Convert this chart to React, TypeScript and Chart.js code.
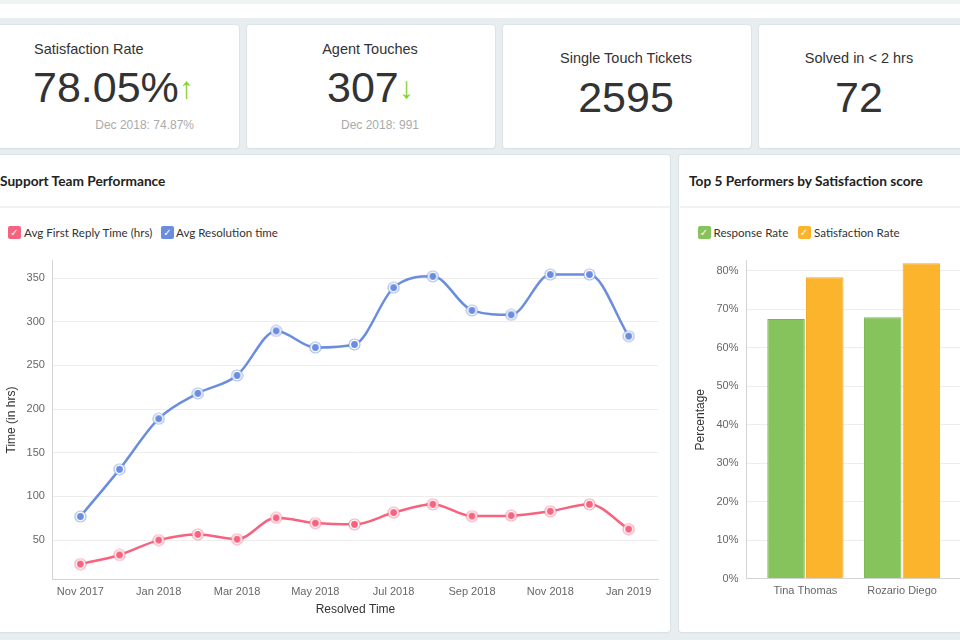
import React, { useEffect, useRef } from 'react';
import { Chart, registerables } from 'chart.js';

Chart.register(...registerables);

// ---------- data ----------
const months = [
  'Nov 2017', 'Dec 2017', 'Jan 2018', 'Feb 2018', 'Mar 2018', 'Apr 2018', 'May 2018', 'Jun 2018',
  'Jul 2018', 'Aug 2018', 'Sep 2018', 'Oct 2018', 'Nov 2018', 'Dec 2018', 'Jan 2019',
];
const firstReplyHrs = [22.5, 33, 50, 56.5, 51, 75.5, 69.5, 68, 81.5, 91, 77.5, 78, 83, 91, 62.5];
const resolutionHrs = [77, 131, 189, 218, 238.5, 289.5, 270.5, 274, 339, 352, 313, 308, 354, 354, 283.5];
const timeTicks = [50, 100, 150, 200, 250, 300, 350];
const monthTickIdx = [0, 2, 4, 6, 8, 10, 12, 14];

const performers = ['Tina Thomas', 'Rozario Diego', 'Performer 3', 'Performer 4', 'Performer 5'];
const responseRate = [67.5, 68, 71.7, 70, 69];
const satisfactionRate = [78.4, 82, 80, 79, 78];
const pctTicks = [0, 10, 20, 30, 40, 50, 60, 70, 80];

// ---------- styles ----------
const PINK = '#f7627f';
const BLUE = '#6b8ddf';
const GREEN = '#86c35c';
const ORANGE = '#fdb42d';
const SANS = '"Liberation Sans", Arial, Helvetica, sans-serif';
const UI = 'Lato, "Open Sans", sans-serif';

Chart.defaults.font.family = SANS;

function pointImg(color: string) {
  const c = document.createElement('canvas');
  c.width = 13;
  c.height = 13;
  const g = c.getContext('2d')!;
  g.beginPath();
  g.arc(6.5, 6.5, 5.5, 0, Math.PI * 2);
  g.fillStyle = '#fff';
  g.fill();
  g.lineWidth = 1.2;
  g.strokeStyle = color;
  g.globalAlpha = 0.6;
  g.stroke();
  g.globalAlpha = 1;
  g.beginPath();
  g.arc(6.5, 6.5, 3.4, 0, Math.PI * 2);
  g.fillStyle = color;
  g.fill();
  return c;
}

function LineChart() {
  const ref = useRef<HTMLCanvasElement>(null);
  useEffect(() => {
    const chart = new Chart(ref.current!, {
      type: 'line',
      data: {
        datasets: [
          {
            label: 'Avg First Reply Time (hrs)',
            data: firstReplyHrs.map((y, i) => ({ x: i, y })),
            borderColor: PINK,
            borderWidth: 2.5,
            pointStyle: pointImg(PINK) as any,
            pointRadius: 5,
            cubicInterpolationMode: 'monotone',
            fill: false,
          },
          {
            label: 'Avg Resolution time',
            data: resolutionHrs.map((y, i) => ({ x: i, y })),
            borderColor: BLUE,
            borderWidth: 2.5,
            pointStyle: pointImg(BLUE) as any,
            pointRadius: 5,
            cubicInterpolationMode: 'monotone',
            fill: false,
          },
        ],
      },
      options: {
        animation: false,
        responsive: true,
        maintainAspectRatio: false,
        layout: { padding: { top: 6, right: 10, left: 0, bottom: 0 } },
        plugins: { legend: { display: false }, tooltip: { enabled: false } },
        scales: {
          x: {
            type: 'linear',
            min: -0.7,
            max: 14.75,
            offset: false,
            afterBuildTicks: (s: any) => {
              s.ticks = monthTickIdx.map((v) => ({ value: v }));
            },
            ticks: {
              callback: (v: any) => months[v as number] ?? '',
              color: '#666',
              font: { size: 11 },
              padding: 6,
              maxRotation: 0,
              autoSkip: false,
            },
            grid: { display: false, drawTicks: false },
            border: { display: true, color: '#d4d4d4' },
            title: {
              display: true,
              text: 'Resolved Time',
              color: '#333',
              font: { size: 12 },
              padding: { top: -2, bottom: 4 },
            },
          },
          y: {
            min: 5,
            max: 370,
            afterBuildTicks: (s: any) => {
              s.ticks = timeTicks.map((v) => ({ value: v }));
            },
            ticks: { color: '#666', font: { size: 11 }, padding: 8 },
            grid: { color: '#ededed', drawTicks: false },
            border: { display: true, color: '#d4d4d4' },
            title: {
              display: true,
              text: 'Time (in hrs)',
              color: '#333',
              font: { size: 12 },
              padding: { top: 4, bottom: 0.2 },
            },
          },
        },
      },
    });
    return () => chart.destroy();
  }, []);
  return (
    <div style={{ position: 'absolute', left: 0, top: 246, width: 668, height: 375 }}>
      <canvas ref={ref} />
    </div>
  );
}

function BarChart() {
  const ref = useRef<HTMLCanvasElement>(null);
  useEffect(() => {
    const chart = new Chart(ref.current!, {
      type: 'bar',
      data: {
        datasets: [
          {
            label: 'Response Rate',
            data: responseRate.map((y, i) => ({ x: i, y })),
            backgroundColor: GREEN,
            borderColor: '#77b84d',
            borderWidth: 1,
            barPercentage: 0.97,
            categoryPercentage: 0.8,
          },
          {
            label: 'Satisfaction Rate',
            data: satisfactionRate.map((y, i) => ({ x: i, y })),
            backgroundColor: ORANGE,
            borderColor: '#f6a91c',
            borderWidth: 1,
            barPercentage: 0.97,
            categoryPercentage: 0.8,
          },
        ],
      },
      options: {
        animation: false,
        responsive: true,
        maintainAspectRatio: false,
        layout: { padding: { top: 6, right: 7, left: 0, bottom: 2 } },
        plugins: { legend: { display: false }, tooltip: { enabled: false } },
        scales: {
          x: {
            type: 'linear',
            min: -0.61,
            max: 4.61,
            offset: false,
            afterBuildTicks: (s: any) => {
              s.ticks = performers.map((_, i) => ({ value: i }));
            },
            ticks: {
              callback: (v: any) => performers[v as number] ?? '',
              color: '#666',
              font: { size: 11 },
              padding: 6,
              maxRotation: 0,
              autoSkip: false,
            },
            grid: { display: false, drawTicks: false },
            border: { display: true, color: '#d4d4d4' },
          },
          y: {
            min: 0,
            max: 82.7,
            afterBuildTicks: (s: any) => {
              s.ticks = pctTicks.map((v) => ({ value: v }));
            },
            ticks: { color: '#666', font: { size: 11 }, padding: 8, callback: (v: any) => v + '%' },
            grid: { color: '#ededed', drawTicks: false },
            border: { display: true, color: '#d4d4d4' },
            title: {
              display: true,
              text: 'Percentage',
              color: '#333',
              font: { size: 12 },
              padding: { top: 15, bottom: 1 },
            },
          },
        },
      },
    });
    return () => chart.destroy();
  }, []);
  return (
    <div style={{ position: 'absolute', left: 678, top: 246, width: 580, height: 360 }}>
      <canvas ref={ref} />
    </div>
  );
}

type TP = { x: number; y: number; size: number; color?: string; family?: string; weight?: number; align?: 'left' | 'center' | 'right'; children: React.ReactNode };
function T({ x, y, size, color = '#333', family = SANS, weight = 400, align = 'left', children }: TP) {
  const lh = size * 1.2;
  const style: React.CSSProperties = {
    position: 'absolute',
    top: y - lh / 2,
    fontSize: size,
    lineHeight: lh + 'px',
    color,
    fontFamily: family,
    fontWeight: weight,
    whiteSpace: 'nowrap',
  };
  if (align === 'left') style.left = x;
  else if (align === 'right') style.right = 960 - x;
  else {
    style.left = x - 300;
    style.width = 600;
    style.textAlign = 'center';
  }
  return <div style={style}>{children}</div>;
}

function Box({ x, y, w, h }: { x: number; y: number; w: number; h: number }) {
  return (
    <div
      style={{
        position: 'absolute',
        left: x,
        top: y,
        width: w,
        height: h,
        background: '#fff',
        borderRadius: 3,
        boxShadow: '0 0 0 1px rgba(214,223,227,0.7), 0 1px 2px rgba(0,0,0,0.05)',
      }}
    />
  );
}

function Check({ x, y, color }: { x: number; y: number; color: string }) {
  return (
    <div
      style={{
        position: 'absolute',
        left: x,
        top: y,
        width: 13,
        height: 13,
        background: color,
        borderRadius: 2,
        color: '#fff',
        fontSize: 10,
        lineHeight: '13px',
        textAlign: 'center',
        fontFamily: '"DejaVu Sans", sans-serif',
      }}
    >
      ✓
    </div>
  );
}

export default function App() {
  return (
    <div
      style={{
        position: 'fixed',
        left: 0,
        top: 0,
        width: 960,
        height: 640,
        overflow: 'hidden',
        background: '#e8eef0',
      }}
    >
      <div style={{ position: 'absolute', left: 0, top: 0, width: 960, height: 4, background: '#eef4f4' }} />
      <div style={{ position: 'absolute', left: 0, top: 4, width: 960, height: 14, background: '#fff' }} />

      {/* KPI cards */}
      <Box x={-9} y={25} w={247.5} h={123} />
      <Box x={246.5} y={25} w={248.5} h={123} />
      <Box x={503} y={25} w={248} h={123} />
      <Box x={759} y={25} w={248} h={123} />

      <T x={34} y={49.5} size={14.5}>Satisfaction Rate</T>
      <T x={33} y={88} size={43}>78.05%</T>
      <T x={179} y={88} size={30} color="#7ed321">↑</T>
      <T x={194} y={125} size={12} color="#aaa" align="right">Dec 2018: 74.87%</T>

      <T x={370} y={49.5} size={14.5} align="center">Agent Touches</T>
      <T x={327} y={88} size={43}>307</T>
      <T x={399} y={88} size={30} color="#7ed321">↓</T>
      <T x={380} y={125} size={12} color="#aaa" align="center">Dec 2018: 991</T>

      <T x={626} y={59} size={14.5} align="center">Single Touch Tickets</T>
      <T x={626} y={97.5} size={43} align="center">2595</T>

      <T x={859} y={59} size={14.5} align="center">Solved in &lt; 2 hrs</T>
      <T x={859} y={97.5} size={43} align="center">72</T>

      {/* Panels */}
      <Box x={-10} y={155} w={680} h={477} />
      <Box x={679} y={155} w={320} h={477} />
      <div style={{ position: 'absolute', left: 0, top: 206, width: 670, height: 1.5, background: '#eef2f3' }} />
      <div style={{ position: 'absolute', left: 680, top: 206, width: 280, height: 1.5, background: '#eef2f3' }} />

      <T x={0} y={181} size={13.7} weight={700} family={UI} color="#222">Support Team Performance</T>
      <T x={689} y={181.5} size={13.7} weight={700} family={UI} color="#222">Top 5 Performers by Satisfaction score</T>

      <Check x={8} y={226} color={PINK} />
      <T x={24} y={232.5} size={11.6} family={UI} color="#333">Avg First Reply Time (hrs)</T>
      <Check x={161} y={226} color={BLUE} />
      <T x={176} y={232.5} size={11.6} family={UI} color="#333">Avg Resolution time</T>

      <Check x={697.5} y={226} color={GREEN} />
      <T x={713.5} y={232.5} size={11.6} family={UI} color="#333">Response Rate</T>
      <Check x={797.5} y={226} color={ORANGE} />
      <T x={814} y={232.5} size={11.6} family={UI} color="#333">Satisfaction Rate</T>

      <LineChart />
      <BarChart />
    </div>
  );
}
